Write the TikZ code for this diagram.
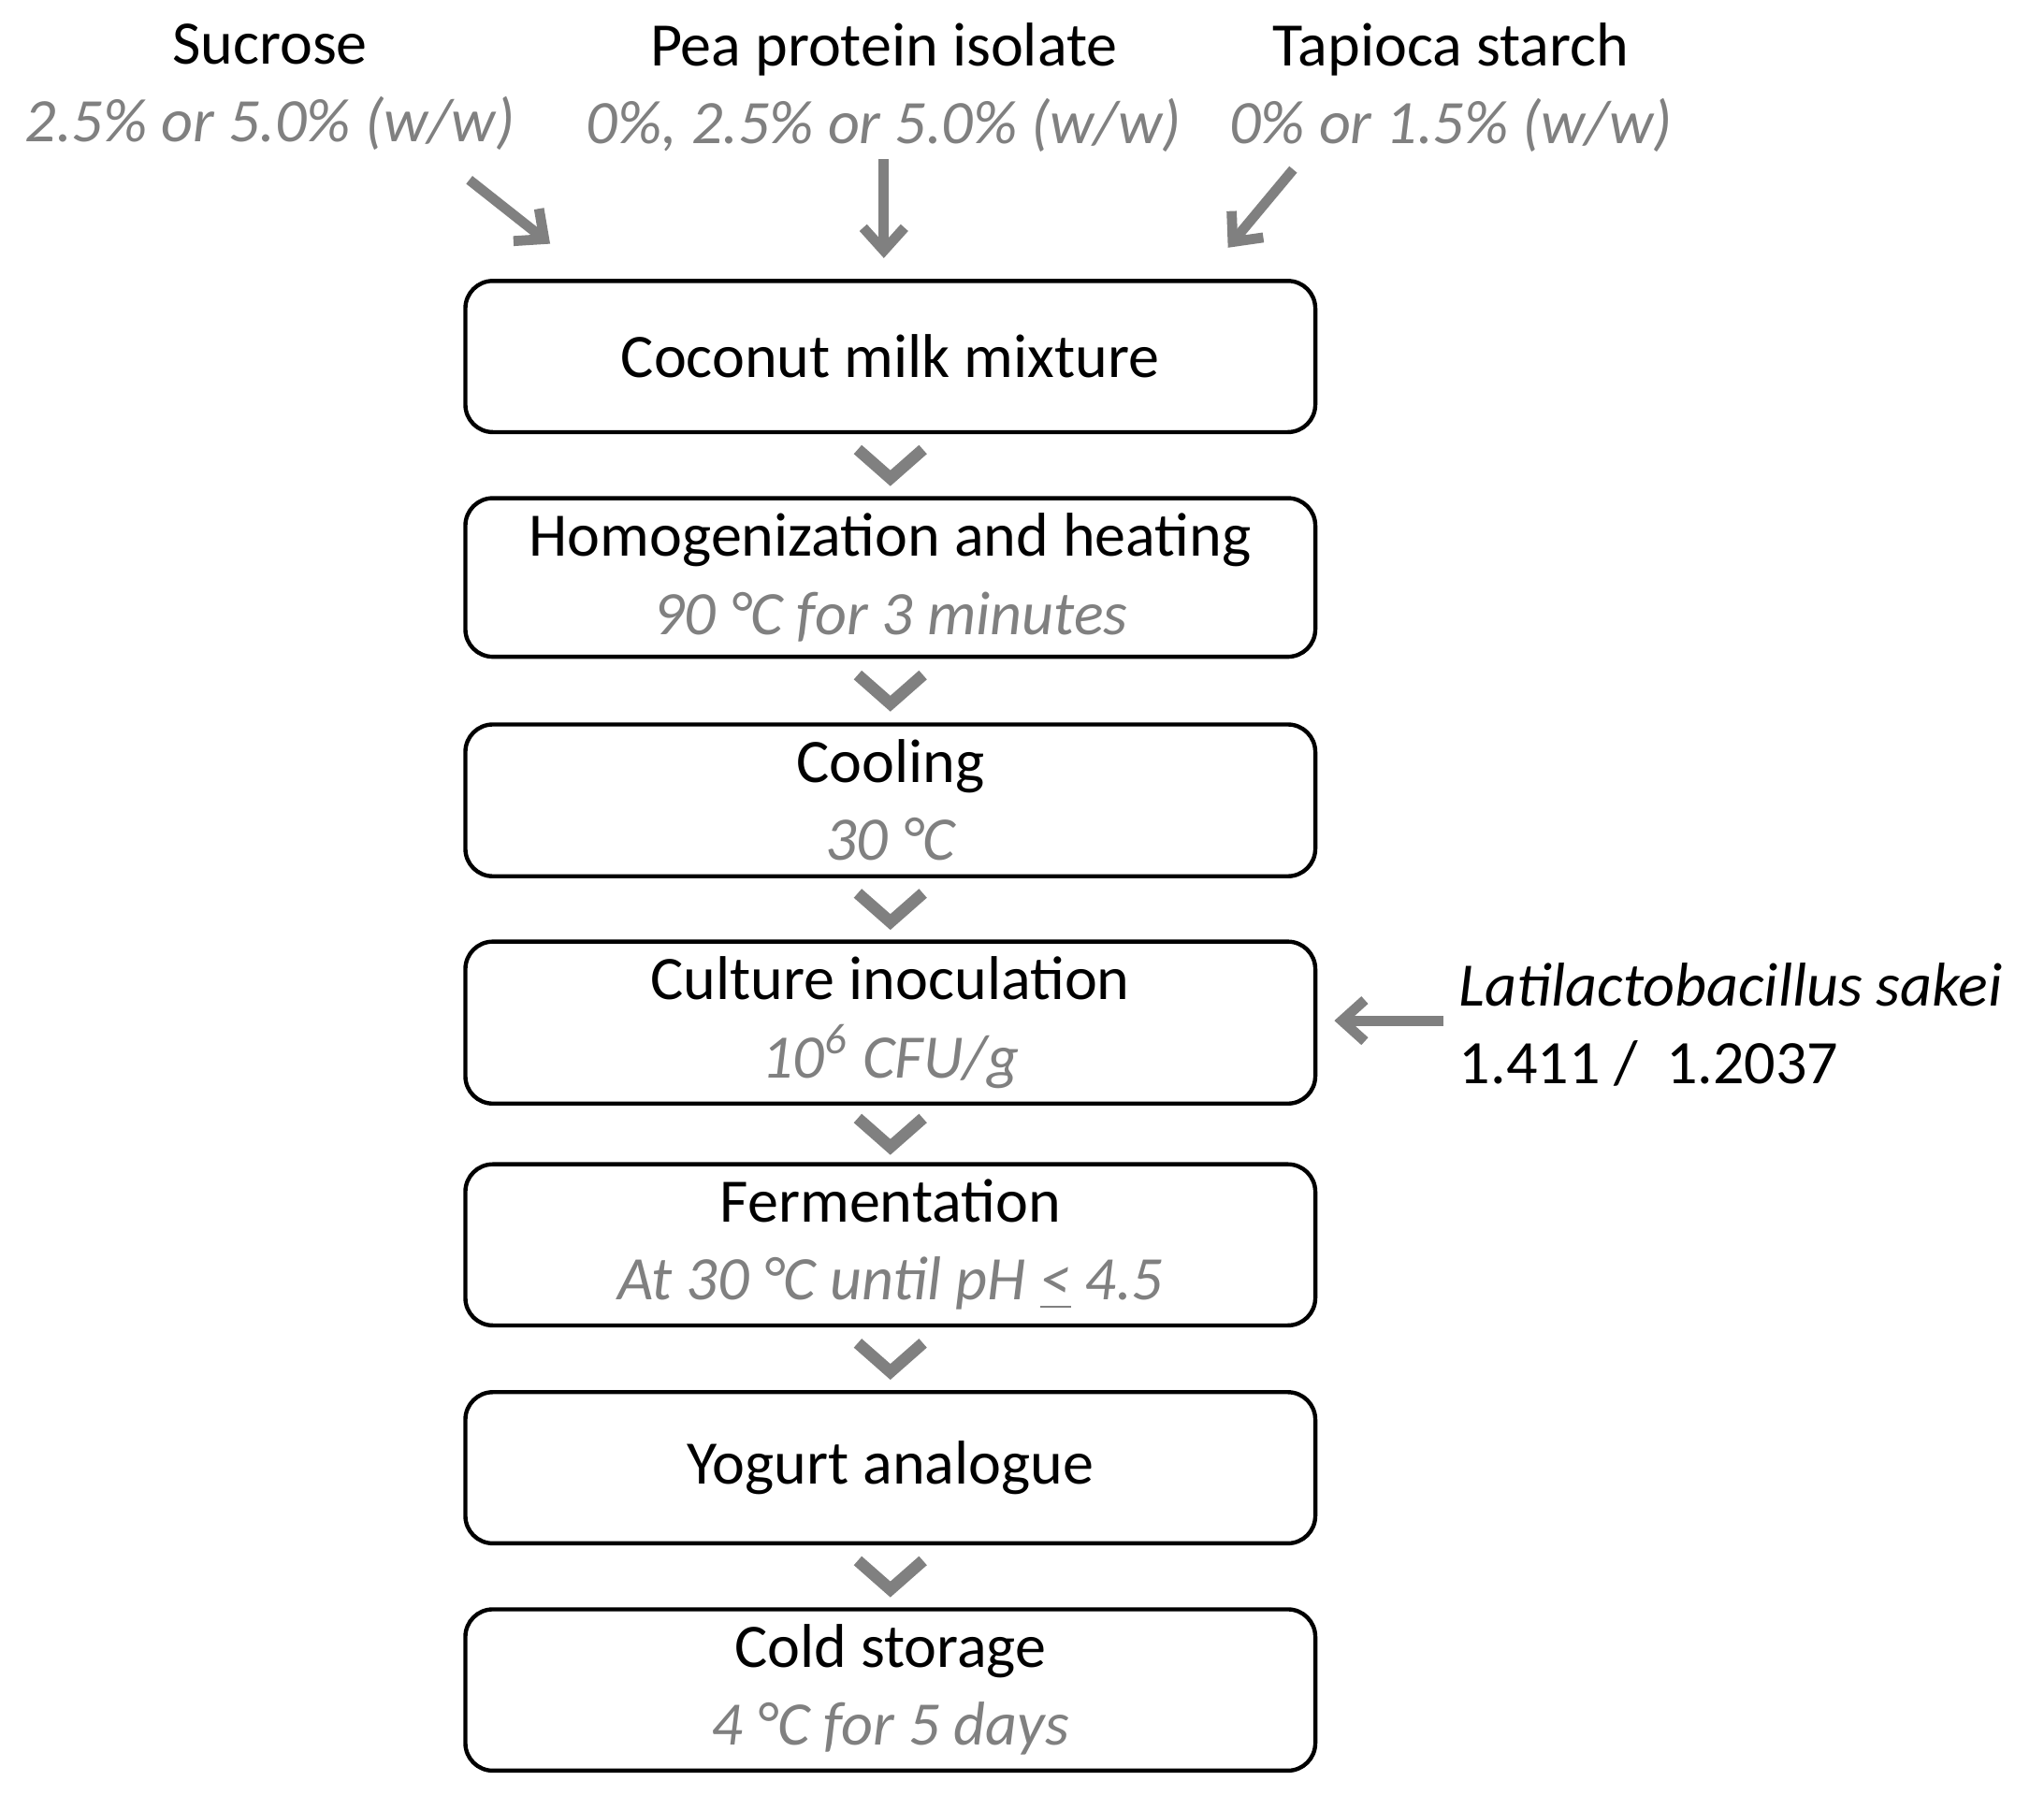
\documentclass[tikz,border=0pt]{standalone}
\usepackage{fontspec}
\setmainfont{Carlito}
\usetikzlibrary{arrows.meta,positioning,calc}
\definecolor{stepgray}{RGB}{128,128,128}
\newcommand{\sub}[1]{{\color{stepgray}\itshape #1}}
\tikzset{
  stepbox/.style={draw, rounded corners=6pt, line width=0.9pt, minimum width=6.52cm,
    minimum height=1.16cm, align=center, font={\fontsize{13.5}{17}\selectfont}},
  feed/.style={draw=stepgray, line width=2.2pt, -{Straight Barb[length=5pt,width=9pt]}},
  chev/.style={draw=stepgray, line width=2.6pt},
  lbl/.style={font={\fontsize{13.5}{17}\selectfont}, align=center}
}
\begin{document}
\begin{tikzpicture}
\useasboundingbox (0,0) rectangle (15.68,-13.88);

% ingredients
\node [lbl] (sucrose) at (2.07,-0.67) {Sucrose\\\sub{2.5\% or 5.0\% (w/w)}};
\node [lbl] (pea) at (6.78,-0.67) {Pea protein isolate\\\sub{0\%, 2.5\% or 5.0\% (w/w)}};
\node [lbl] (tapioca) at (11.13,-0.67) {Tapioca starch\\\sub{0\% or 1.5\% (w/w)}};

% process steps
\node [stepbox] (mix) at (6.83,-2.735) {Coconut milk mixture};
\node [stepbox] (homog) at (6.83,-4.43) {Homogenization and heating\\\sub{90 °C for 3 minutes}};
\node [stepbox] (cool) at (6.83,-6.14) {Cooling\\\sub{30 °C}};
\node [stepbox] (inoc) at (6.83,-7.845) {Culture inoculation\\\sub{10\textsuperscript{6} CFU/g}};
\node [stepbox] (ferm) at (6.83,-9.55) {Fermentation\\\sub{At 30 °C until pH \underline{<} 4.5}};
\node [stepbox] (yog) at (6.83,-11.26) {Yogurt analogue};
\node [stepbox] (cold) at (6.83,-12.965) {Cold storage\\\sub{4 °C for 5 days}};

% culture
\node [lbl, anchor=west, align=left] (culture) at (11.07,-7.86) {\itshape Latilactobacillus sakei\\1.411 /\ \ 1.2037};

% feeds
\coordinate (s1) at (3.60,-1.38);  \coordinate (s2) at (4.22,-1.87);
\coordinate (p1) at (6.78,-1.22);  \coordinate (p2) at (6.78,-1.98);
\coordinate (t1) at (9.92,-1.30);  \coordinate (t2) at (9.42,-1.90);
\draw [feed] (s1) -- (s2);
\draw [feed] (p1) -- (p2);
\draw [feed] (t1) -- (t2);
\draw [feed] (culture.west |- 0,-7.83) -- ([xshift=0.13cm]inoc.east |- 0,-7.83);

% chevrons
\foreach \a/\b in {mix/homog, homog/cool, cool/inoc, inoc/ferm, ferm/yog, yog/cold}
  \draw [chev] ($(\a.south)!0.5!(\b.north)$) ++(-0.25,0.12) -- ++(0.25,-0.22) -- ++(0.25,0.22);

\end{tikzpicture}
\end{document}
